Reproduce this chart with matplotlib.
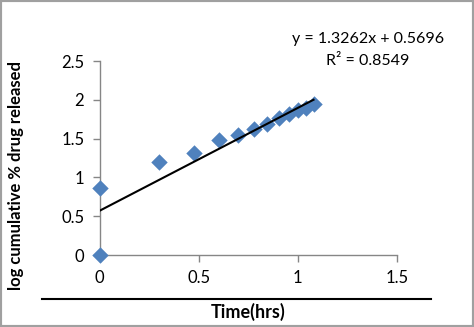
import matplotlib.pyplot as plt
from matplotlib.lines import Line2D
from matplotlib.patches import Rectangle
import numpy as np

# log time (hrs) vs log cumulative % drug released
log_time = [0, 0, 0.301, 0.477, 0.602, 0.699, 0.778, 0.845, 0.903, 0.954, 1.0, 1.041, 1.079]
log_release = [0, 0.86, 1.20, 1.31, 1.48, 1.55, 1.62, 1.69, 1.76, 1.82, 1.87, 1.90, 1.945]
slope, intercept = 1.3262, 0.5696
x_ticks = [0, 0.5, 1, 1.5]
y_ticks = [0, 0.5, 1, 1.5, 2, 2.5]

plt.rcParams['font.family'] = ['Lato', 'DejaVu Sans']

fig = plt.figure(figsize=(4.74, 3.27), dpi=100)
W, H = 474, 327
ax = fig.add_axes([99.5 / W, (H - 255) / H, (397 - 99.5) / W, (255 - 61) / H])

ax.scatter(log_time, log_release, marker='D', s=70, color='#4F81BD', zorder=3,
           clip_on=False, linewidths=0)
fit_x = np.array([0, max(log_time)])
ax.plot(fit_x, slope * fit_x + intercept, color='black', lw=1.5, zorder=4)

ax.set_xlim(0, 1.5)
ax.set_ylim(0, 2.5)
ax.set_xticks(x_ticks)
ax.set_xticklabels(['0', '0.5', '1', '1.5'])
ax.set_yticks(y_ticks)
ax.set_yticklabels(['0', '0.5', '1', '1.5', '2', '2.5'])
for s in ['top', 'right']:
    ax.spines[s].set_visible(False)
for s in ['left', 'bottom']:
    ax.spines[s].set_color('#868686')
    ax.spines[s].set_linewidth(1.0)
ax.tick_params(direction='out', length=5, width=1, color='#868686',
               labelsize=12, labelcolor='black', pad=6)

ax.set_ylabel('log cumulative % drug released', fontsize=12, fontweight='bold')
ax.yaxis.set_label_coords(-0.255, 0.41)

fig.text(368 / W, 1 - 39 / H, 'y = 1.3262x + 0.5696', ha='center', va='center', fontsize=11.5)
fig.text(368 / W, 1 - 61 / H, 'R² = 0.8549', ha='center', va='center', fontsize=11.5)

# underline bar and axis title
fig.add_artist(Line2D([42 / W, 431 / W], [1 - 299 / H, 1 - 299 / H], color='black', lw=1.5))
fig.text(248 / W, 1 - 312 / H, 'Time(hrs)', ha='center', va='center', fontsize=13,
         fontweight='bold')

# grey outer frame
fig.add_artist(Rectangle((0, 0), 1, 1, transform=fig.transFigure, fill=False,
                         edgecolor='#A0A0A0', lw=3))

fig.savefig('out.png', dpi=100)
